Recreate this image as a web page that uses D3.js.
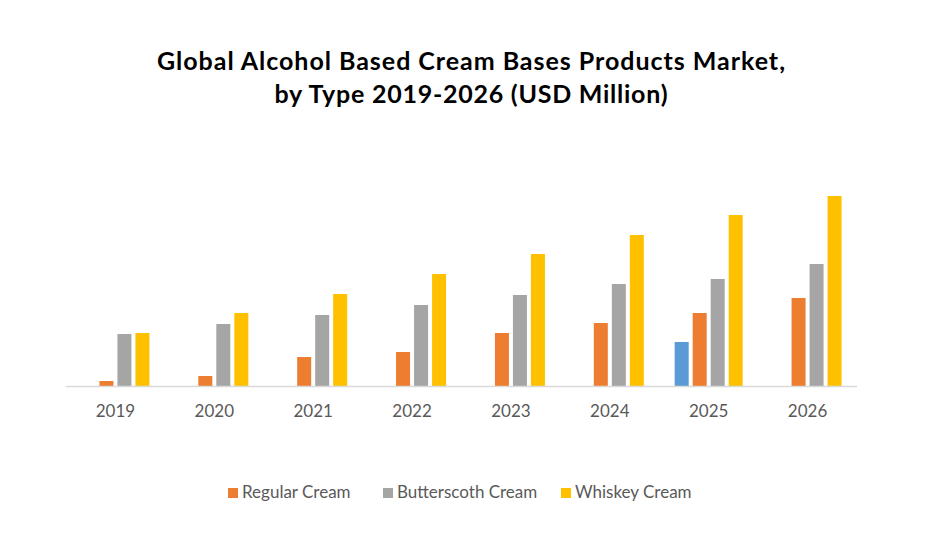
<!DOCTYPE html>
<html><head><meta charset="utf-8">
<script src="https://cdn.jsdelivr.net/npm/d3@7"></script>
<style>body{margin:0;background:#fff}svg{display:block}</style>
</head><body><svg id="c" width="936" height="546"></svg>
<script>
const categories = ["2019","2020","2021","2022","2023","2024","2025","2026"];
const highlight = [0, 0, 0, 0, 0, 0, 44, 0];
const regularCream = [5, 10, 29, 34, 53, 63, 73, 88];
const butterscothCream = [52, 62, 71, 81, 91, 102, 107, 122];
const whiskeyCream = [53, 73, 92, 112, 132, 151, 171, 190];
const seriesNames = ["Highlight","Regular Cream","Butterscoth Cream","Whiskey Cream"];
const seriesValues = [highlight, regularCream, butterscothCream, whiskeyCream];
const colors = ["#5b9bd5","#ed7d31","#a5a5a5","#ffc000"];
const legendSeries = [1,2,3];
const titleLines = ["Global Alcohol Based Cream Bases Products Market,","by Type 2019-2026 (USD Million)"];

const svg = d3.select("#c");
const font = "Lato, 'Open Sans', sans-serif";

const titleY = [70, 103], titleW = [628, 393];
titleLines.forEach((t,i)=>{
  svg.append("text").attr("x",471).attr("y",titleY[i]).attr("text-anchor","middle")
    .attr("font-family",font).attr("font-weight","bold").attr("font-size",25).attr("fill","#000")
    .attr("textLength",titleW[i]).attr("lengthAdjust","spacing")
    .text(t);
});

const x0 = d3.scaleBand().domain(categories).range([66,857]).paddingInner(0.312).paddingOuter(0.156);
const x1 = d3.scaleBand().domain(d3.range(4)).range([0,x0.bandwidth()]).paddingInner(0.222).paddingOuter(0);
const y = d3.scaleLinear().domain([0,200]).range([386,186]);

const g = svg.append("g");
categories.forEach((c,i)=>{
  seriesValues.forEach((vals,s)=>{
    if(!vals[i]) return;
    g.append("rect").attr("x",x0(c)+x1(s)).attr("width",x1.bandwidth())
      .attr("y",y(vals[i])).attr("height",y(0)-y(vals[i])).attr("fill",colors[s]);
  });
});

const xAxis = svg.append("g").attr("transform",`translate(0,${y(0)})`)
  .call(d3.axisBottom(x0).tickSize(0).tickPadding(19));
xAxis.select(".domain").attr("stroke","#d9d9d9").attr("stroke-width",1.3).attr("d","M66,0.5H857");
xAxis.selectAll("text").attr("font-family",font).attr("font-size",17).attr("fill","#595959");

const legendX = [228, 383, 561];
legendSeries.forEach((s,k)=>{
  const lg = svg.append("g").attr("transform",`translate(${legendX[k]},488)`);
  lg.append("rect").attr("width",10).attr("height",10).attr("fill",colors[s]);
  lg.append("text").attr("x",14).attr("y",10).attr("font-family",font).attr("font-size",17)
    .attr("fill","#595959").text(seriesNames[s]);
});
</script></body></html>
